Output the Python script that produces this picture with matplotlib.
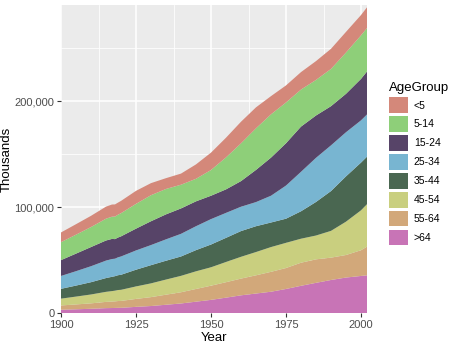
import numpy as np
import matplotlib.pyplot as plt
from matplotlib.patches import Patch
from matplotlib.ticker import FuncFormatter, MultipleLocator

plt.rcParams['font.family'] = ['Liberation Sans', 'DejaVu Sans']

# US population by age group, thousands
years = [1900, 1905, 1910, 1915, 1917, 1918, 1919, 1920, 1925, 1930, 1935,
         1940, 1945, 1950, 1955, 1960, 1965, 1970, 1975, 1980, 1985, 1990,
         1995, 2000, 2002]

age_lt5 = [9181, 9900, 10600, 11400, 11500, 11500, 11400, 11600, 12300, 11400,
           10200, 10500, 13600, 16400, 18600, 20400, 19800, 17200, 16100, 16500,
           17800, 19000, 19500, 19200, 19600]
age_5_14 = [16966, 17900, 18900, 20600, 21000, 21300, 21600, 21900, 23400, 24600,
            24000, 22400, 21300, 24300, 30200, 35700, 39300, 40900, 38500, 35000,
            33600, 35200, 39000, 41100, 41000]
age_15_24 = [14951, 16600, 18100, 19000, 19000, 18500, 18700, 19000, 20600, 22500,
             23600, 24000, 23500, 22100, 22200, 24200, 30400, 36000, 40000, 42700,
             40000, 37000, 36300, 39200, 40600]
age_25_34 = [12161, 13600, 15100, 16500, 16800, 16500, 16900, 17300, 18200, 19000,
             20200, 21400, 22600, 24000, 23600, 23000, 22800, 25300, 31300, 37300,
             41700, 43200, 41700, 39900, 39900]
age_35_44 = [9273, 10400, 11600, 13000, 13500, 13700, 14000, 14200, 15800, 17200,
             17800, 18300, 20000, 21500, 22800, 24300, 24400, 23200, 22800, 25900,
             31700, 37600, 42800, 45100, 44900]
age_45_54 = [6437, 7400, 8400, 9500, 9900, 10100, 10400, 10500, 11800, 13000,
             14300, 15500, 16700, 17400, 19100, 20600, 22000, 23400, 23800, 22700,
             22500, 25300, 31500, 37700, 40100]
age_55_64 = [4026, 4600, 5100, 5900, 6100, 6200, 6400, 6500, 7500, 8400,
             9500, 10600, 12000, 13400, 14600, 15800, 17200, 18800, 19800, 21800,
             22200, 21100, 21300, 24300, 27100]
age_gt64 = [3099, 3500, 4000, 4600, 4700, 4800, 4900, 4900, 5800, 6600,
            7800, 9000, 10700, 12400, 14500, 16700, 18400, 20100, 22700, 25700,
            28500, 31200, 33500, 35000, 35600]

groups = ['<5', '5-14', '15-24', '25-34', '35-44', '45-54', '55-64', '>64']
series = [age_lt5, age_5_14, age_15_24, age_25_34, age_35_44, age_45_54,
          age_55_64, age_gt64]
colors = ['#d4887a', '#8ecf79', '#574468', '#78b5d1', '#4a6751', '#c9cf7f',
          '#d2a87a', '#c874b6']

fig = plt.figure(figsize=(4.74, 3.51), dpi=100)
ax = fig.add_axes([61 / 474, 38 / 351, 306 / 474, 308 / 351])
ax.set_facecolor('#ebebeb')

# ggplot stacks the first level on top, so draw in reverse
ax.stackplot(years, series[::-1], colors=colors[::-1], linewidth=0)

ax.set_xlim(1900, 2002)
ax.set_ylim(0, 291000)
ax.xaxis.set_major_locator(MultipleLocator(25))
ax.xaxis.set_minor_locator(MultipleLocator(12.5))
ax.yaxis.set_major_locator(MultipleLocator(100000))
ax.yaxis.set_minor_locator(MultipleLocator(50000))
ax.yaxis.set_major_formatter(FuncFormatter(lambda v, p: f'{int(v):,}'))
ax.grid(which='major', color='white', linewidth=1.1)
ax.grid(which='minor', color='white', linewidth=0.55)
ax.set_axisbelow(True)
for s in ax.spines.values():
    s.set_visible(False)
ax.tick_params(which='major', length=2.75, width=0.8, color='#333333',
               labelcolor='#4d4d4d', labelsize=8, pad=2)
ax.tick_params(which='minor', length=0)

ax.set_xlabel('Year', fontsize=9.5, labelpad=2)
ax.set_ylabel('Thousands', fontsize=9.5, labelpad=1)

handles = [Patch(facecolor=c, edgecolor='none') for c in colors]
leg = fig.legend(handles, groups, title='AgeGroup', loc='upper left',
                 bbox_to_anchor=(382 / 474, 1 - 75 / 351), frameon=False,
                 fontsize=7.5, title_fontsize=9.5, handlelength=1.75,
                 handleheight=1.95, labelspacing=0.3, handletextpad=0.6,
                 borderpad=0.2)
leg._legend_box.align = 'left'

fig.savefig('out.png', dpi=100)
